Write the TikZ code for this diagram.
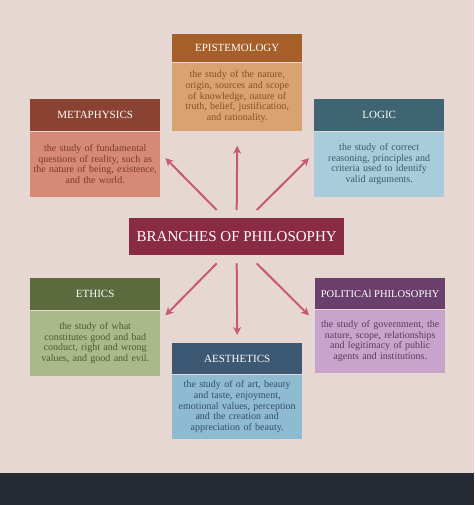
\documentclass[tikz,border=0pt]{standalone}
\usepackage{fontspec}
\setmainfont{Liberation Serif}
\usetikzlibrary{positioning,arrows.meta}

\definecolor{paper}{HTML}{E7D7D3}
\definecolor{strip}{HTML}{252A35}
\definecolor{mainc}{HTML}{8A2B46}
\definecolor{arrc}{HTML}{C75A70}
\definecolor{epiH}{HTML}{A65F28}
\definecolor{epiF}{HTML}{D9A271}
\definecolor{epiX}{HTML}{8A4F22}
\definecolor{metaH}{HTML}{8A4333}
\definecolor{metaF}{HTML}{D68A75}
\definecolor{metaX}{HTML}{7A392C}
\definecolor{logH}{HTML}{3F6472}
\definecolor{logF}{HTML}{A9CCDA}
\definecolor{logX}{HTML}{3C5A68}
\definecolor{ethH}{HTML}{5B6B3E}
\definecolor{ethF}{HTML}{A9B98A}
\definecolor{ethX}{HTML}{4E5B34}
\definecolor{polH}{HTML}{6B3F6B}
\definecolor{polF}{HTML}{C8A4CC}
\definecolor{polX}{HTML}{5E3A5E}
\definecolor{aesH}{HTML}{3D5872}
\definecolor{aesF}{HTML}{8EBBCF}
\definecolor{aesX}{HTML}{34506A}

\tikzset{
  head/.style={anchor=north west, minimum width=130pt, inner sep=0pt,
    text=white, font=\fontsize{11}{13}\selectfont},
  body/.style={below=0pt of #1, text width=126pt, inner xsep=2pt, inner ysep=0pt,
    align=center, font=\fontsize{10}{10.8}\selectfont},
  arr/.style={arrc, line width=2pt, -{Stealth[length=8pt,width=8pt]}}
}

\begin{document}
\begin{tikzpicture}[x=1pt,y=-1pt]
\useasboundingbox (0,0) rectangle (474,505);
\fill [paper] (0,0) rectangle (474,473);
\fill [strip] (0,473) rectangle (474,505);

% center
\node [fill=mainc, text=white, minimum width=215pt, minimum height=37pt, inner sep=0pt,
  anchor=north west, font=\fontsize{15}{17}\selectfont] (main) at (129,218) {BRANCHES OF PHILOSOPHY};

% top row
\node [head, fill=epiH, minimum height=28pt] (epiT) at (172,34) {EPISTEMOLOGY};
\node [body=epiT, fill=epiF, text=epiX, minimum height=68pt] (epiB)
  {the study of the nature,\\ origin, sources and scope\\ of knowledge, nature of\\ truth, belief, justification,\\ and rationality.};

\node [head, fill=metaH, minimum height=32pt] (metaT) at (30,99) {METAPHYSICS};
\node [body=metaT, fill=metaF, text=metaX, minimum height=65pt] (metaB)
  {the study of fundamental\\ questions of reality, such as\\ the nature of being, existence,\\ and the world.};

\node [head, fill=logH, minimum height=32pt] (logT) at (314,99) {LOGIC};
\node [body=logT, fill=logF, text=logX, minimum height=65pt] (logB)
  {the study of correct\\ reasoning, principles and\\ criteria used to identify\\ valid arguments.};

% bottom row
\node [head, fill=ethH, minimum height=32pt] (ethT) at (30,278) {ETHICS};
\node [body=ethT, fill=ethF, text=ethX, minimum height=65pt] (ethB)
  {the study of what\\ constitutes good and bad\\ conduct, right and wrong\\ values, and good and evil.};

\node [head, fill=polH, minimum height=31pt, font=\fontsize{10.5}{12}\selectfont] (polT) at (315,278) {POLITICAl PHILOSOPHY};
\node [body=polT, fill=polF, text=polX, minimum height=63pt] (polB)
  {the study of government, the\\ nature, scope, relationships\\ and legitimacy of public\\ agents and institutions.};

\node [head, fill=aesH, minimum height=31pt] (aesT) at (172,343) {AESTHETICS};
\node [body=aesT, fill=aesF, text=aesX, minimum height=64pt] (aesB)
  {the study of of art, beauty\\ and taste, enjoyment,\\ emotional values, perception\\ and the creation and\\ appreciation of beauty.};

% arrows
\draw [arr] ([shift={(-20,-8)}]main.north) -- ([shift={(5,-6)}]metaB.east);
\draw [arr] ([shift={(0,-8)}]main.north) -- ([shift={(0,15)}]epiB.south);
\draw [arr] ([shift={(20,-8)}]main.north) -- ([shift={(-5,-6)}]logB.west);
\draw [arr] ([shift={(-20,8)}]main.south) -- ([shift={(5,5)}]ethT.south east);
\draw [arr] ([shift={(0,8)}]main.south) -- ([shift={(0,-8)}]aesT.north);
\draw [arr] ([shift={(20,8)}]main.south) -- ([shift={(-6,6)}]polT.south west);
\end{tikzpicture}
\end{document}
